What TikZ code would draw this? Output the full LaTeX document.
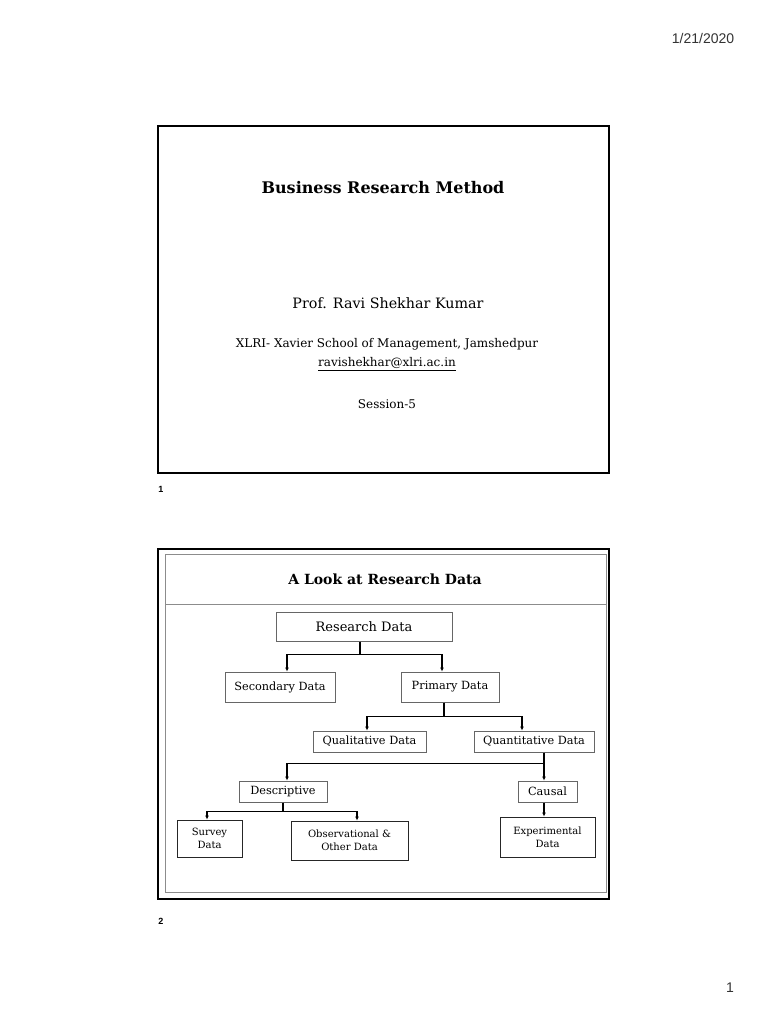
\documentclass[tikz,border=0pt]{standalone}
\usepackage{fontspec}
\setmainfont{DejaVu Serif}
\setsansfont{Liberation Sans}
\usetikzlibrary{arrows.meta}

\tikzset{
  frame/.style={draw=black, line width=1.4pt},
  inner/.style={draw=black!45, line width=1pt},
  box/.style={draw=black!60, line width=1pt, inner sep=0pt, align=center,
    font=\fontsize{11.3}{14}\selectfont},
  lowbox/.style={box, draw=black!85, font=\fontsize{10}{13}\selectfont},
  link/.style={line width=1.6pt, -{Latex[length=4pt,width=4pt]}},
  txt/.style={inner sep=0pt}
}

\begin{document}
\begin{tikzpicture}[x=1pt, y=-1pt]
			%%%%% START %%%%%
			\useasboundingbox[fill=white] (0,0) rectangle (768,1024);
			
			\node[txt, font=\sffamily\fontsize{14}{16}\selectfont, text=black!80] (date) at (703,38) {1/21/2020};
			
			% slide 1
			\draw[frame] (158,126) rectangle (609,473);
			\node[txt, font=\bfseries\fontsize{16}{19}\selectfont] (title1) at (383,188) {Business Research Method};
			\node[txt, font=\fontsize{14.3}{16}\selectfont] (prof) at (388,303) {Prof. Ravi Shekhar Kumar};
			\node[txt, font=\fontsize{12}{14}\selectfont] (inst) at (387,344) {XLRI- Xavier School of Management, Jamshedpur};
			\node[txt, font=\fontsize{12}{14}\selectfont] (mail) at (387,364) {\underline{ravishekhar@xlri.ac.in}};
			\node[txt, font=\fontsize{12}{14}\selectfont] (sess) at (387,404) {Session-5};
			\node[txt, font=\sffamily\bfseries\fontsize{9}{11}\selectfont] (num1) at (161,489) {1};
			
			% slide 2
			\draw[frame] (158,549) rectangle (609,899);
			\draw[inner] (165,554) rectangle (606,892);
			\draw[inner] (165,604) -- (606,604);
			\node[txt, font=\bfseries\fontsize{14}{17}\selectfont] (title2) at (385,579) {A Look at Research Data};
			\node[txt, font=\sffamily\bfseries\fontsize{9}{11}\selectfont] (num2) at (161,921) {2};
			
			\node[box, minimum width=176, minimum height=29, font=\fontsize{13}{15}\selectfont] (rd) at (364,626.5) {Research Data};
			\node[box, minimum width=110, minimum height=30] (sec) at (280,687) {Secondary Data};
			\node[box, minimum width=98, minimum height=30] (pri) at (450,687) {Primary Data};
			\node[box, minimum width=113, minimum height=21] (qual) at (369.5,741.5) {Qualitative Data};
			\node[box, minimum width=120, minimum height=21] (quant) at (534,741.5) {Quantitative Data};
			\node[box, minimum width=88, minimum height=21] (desc) at (283,791.5) {Descriptive};
			\node[box, minimum width=59, minimum height=21] (caus) at (547.5,791.5) {Causal};
			\node[lowbox, minimum width=65, minimum height=37] (surv) at (209.5,838.5) {Survey\\Data};
			\node[lowbox, minimum width=117, minimum height=39] (obs) at (349.5,840.5) {Observational \&\\Other Data};
			\node[lowbox, minimum width=95, minimum height=40] (exp) at (547.5,837) {Experimental\\Data};
			
			\draw[link] ([xshift=-4]rd.south) -- ++(0,13) -| ([xshift=7]sec.north);
			\draw[link] ([xshift=-4]rd.south) -- ++(0,13) -| ([xshift=-8]pri.north);
			\draw[link] ([xshift=-6]pri.south) -- ++(0,14) -| ([xshift=-2.5]qual.north);
			\draw[link] ([xshift=-6]pri.south) -- ++(0,14) -| ([xshift=-12]quant.north);
			\draw[link] ([xshift=10]quant.south) -- ++(0,11) -| ([xshift=4]desc.north);
			\draw[link] ([xshift=10]quant.south) -- ++(0,11) -| ([xshift=-3.5]caus.north);
			\draw[link] (desc.south) -- ++(0,9) -| ([xshift=-2.5]surv.north);
			\draw[link] (desc.south) -- ++(0,9) -| ([xshift=7.5]obs.north);
			\draw[link] ([xshift=-3.5]caus.south) -- ([xshift=-3.5]exp.north);
			
			\node[txt, font=\sffamily\fontsize{14}{16}\selectfont, text=black!80] (page) at (730,988) {1};
			%%%%% END %%%%%
\end{tikzpicture}
\end{document}
